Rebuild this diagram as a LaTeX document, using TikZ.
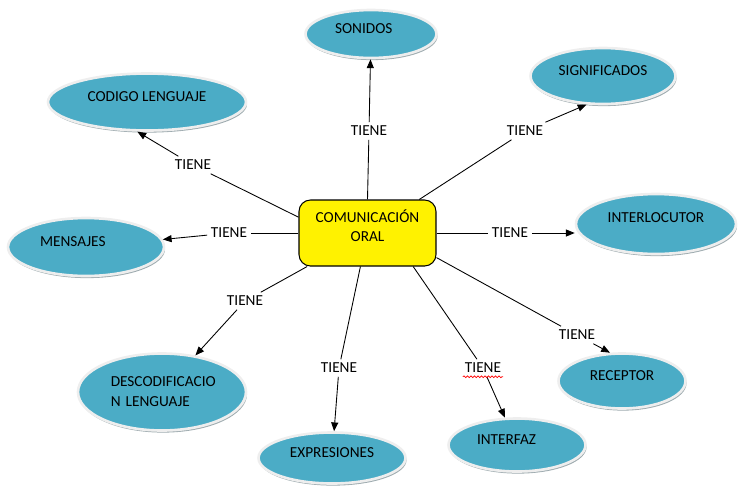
\documentclass[tikz,border=0pt]{standalone}
\usepackage{fontspec}
\setmainfont{Carlito}
\usetikzlibrary{arrows.meta,shapes.geometric,shadows,decorations.pathmorphing}
\definecolor{aqua}{HTML}{4BACC6}
\definecolor{rim}{HTML}{EEEEEE}

\begin{document}
\begin{tikzpicture}[x=0.02cm, y=-0.02cm,
    font=\fontsize{8.7}{10}\selectfont,
    idea/.style={ellipse, fill=aqua, draw=rim, line width=1.5pt, inner sep=0pt,
      text height=6pt, text depth=7pt,
      drop shadow={shadow xshift=0.6pt, shadow yshift=-1.2pt, fill=gray!80!aqua, opacity=0.7}},
    tiene/.style={inner sep=2pt},
    linea/.style={line width=0.5pt},
    flecha/.style={-{Triangle[length=5pt,width=4pt]}, line width=0.5pt}]

  \useasboundingbox (0,0) rectangle (751,498);

  % centro
  \node[draw, fill=yellow, rounded corners=6.5pt, line width=0.6pt, minimum width=2.74cm,
        minimum height=1.32cm, align=center, text depth=8pt] (com) at (367.5,233) {COMUNICACIÓN\\[0.8pt]ORAL};

  % ideas
  \node[idea, minimum width=2.62cm, minimum height=0.96cm, text width=1.44cm, align=left] (sonidos) at (371,34) {SONIDOS};
  \node[idea, minimum width=2.9cm, minimum height=1.12cm] (signif) at (603,76) {SIGNIFICADOS};
  \node[idea, minimum width=3.96cm, minimum height=1.14cm] (codigo) at (147,102) {CODIGO LENGUAJE};
  \node[idea, minimum width=3.2cm, minimum height=1.2cm, text depth=8pt] (inter) at (656,224) {INTERLOCUTOR};
  \node[idea, minimum width=3.12cm, minimum height=1.16cm, text width=1.84cm, align=left] (mensajes) at (86,247) {MENSAJES};
  \node[idea, minimum width=3.36cm, minimum height=1.54cm, text width=2.05cm, align=left,
        text height={}, text depth={}] (descod) at (162,392) {DESCODIFICACIO\\[1.3pt]N LENGUAJE};
  \node[idea, minimum width=2.94cm, minimum height=1.02cm] (expres) at (332,458) {EXPRESIONES};
  \node[idea, minimum width=2.74cm, minimum height=1.06cm, text width=1.6cm, align=left] (interfaz) at (517,445) {INTERFAZ};
  \node[idea, minimum width=2.54cm, minimum height=1.1cm] (receptor) at (622,381) {RECEPTOR};

  % etiquetas
  \node[tiene] (t1) at (369,131) {TIENE};
  \node[tiene] (t2) at (525,131) {TIENE};
  \node[tiene] (t3) at (193,165) {TIENE};
  \node[tiene] (t4) at (229,233) {TIENE};
  \node[tiene] (t5) at (510,233) {TIENE};
  \node[tiene] (t6) at (245,301) {TIENE};
  \node[tiene] (t7) at (339,368) {TIENE};
  \node[tiene] (t8) at (483,368) {TIENE};
  \node[tiene] (t9) at (577,335) {TIENE};

  \draw[linea] (com.north) -- (t1);
  \draw[flecha] (t1) -- (sonidos);
  \draw[linea] (com) -- (t2);
  \draw[flecha] (t2) -- (signif.240);
  \draw[linea] ([yshift=9pt]com.west) -- (t3);
  \draw[flecha] (t3) -- (codigo.252);
  \draw[linea] (com.west) -- (t4);
  \draw[flecha] (t4) -- (mensajes);
  \draw[linea] (com.east) -- (t5);
  \draw[flecha] (t5) -- (t5 -| inter.west);
  \draw[linea] (com) -- (t6);
  \draw[flecha] (t6) -- (descod);
  \draw[linea] (com) -- (t7);
  \draw[flecha] (t7) -- (expres);
  \draw[linea] ([xshift=26pt]com.south) -- (t8);
  \draw[flecha] (t8) -- (interfaz);
  \draw[linea] ([yshift=-14pt]com.east) -- (t9);
  \draw[flecha] (t9) -- (receptor.113);

  %\draw[red] (t8.south west) -- (t8.south east);
  \draw[red, line width=0.4pt, decorate, decoration={snake, amplitude=0.5pt, segment length=2pt}]
    ([xshift=1pt]t8.south west) -- ([xshift=-1pt]t8.south east);

\end{tikzpicture}
\end{document}
